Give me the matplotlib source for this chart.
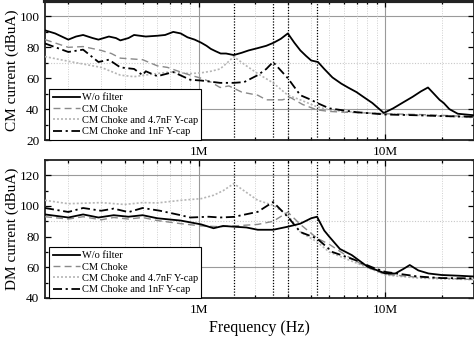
import matplotlib
matplotlib.use("Agg")
import matplotlib.pyplot as plt
from matplotlib.ticker import FixedLocator, NullFormatter, MultipleLocator

plt.rcParams['font.family'] = ['Liberation Serif', 'DejaVu Serif']

# ---------------- data (frequency in MHz, level in dBuA) ----------------
labels = ["W/o filter", "CM Choke", "CM Choke and 4.7nF Y-cap", "CM Choke and 1nF Y-cap"]

cm_wo_f = [0.15, 0.17, 0.2, 0.22, 0.24, 0.27, 0.29, 0.33, 0.36, 0.38, 0.42, 0.45, 0.52, 0.6, 0.66,
           0.73, 0.8, 0.87, 0.95, 1.03, 1.1, 1.16, 1.23, 1.31, 1.4, 1.54, 1.7, 1.85, 2.07, 2.3, 2.52,
           2.75, 3.0, 3.25, 3.5, 3.75, 4.0, 4.35, 4.7, 5.2, 5.8, 6.3, 7.0, 7.6, 8.5, 9.8, 11, 12.5,
           14, 15.5, 16.9, 18, 19.5, 20.5, 22, 24.4, 27, 30]
cm_wo_v = [91, 89, 85, 87, 88, 86, 85, 87, 86, 84.5, 86, 88, 87, 87.5, 88,
           90, 89, 86.5, 85, 83, 81, 79, 77.5, 76, 76, 75, 76.5, 78, 79.5, 81, 83,
           85.5, 89, 83, 78, 74.5, 71.5, 70.5, 66, 60.5, 56.5, 54, 51, 48, 44, 37.5, 40.5, 44.5,
           48, 51.5, 54, 50.5, 46, 44, 40, 37, 36.5, 36]

cm_ch_f = [0.15, 0.2, 0.24, 0.3, 0.34, 0.38, 0.5, 0.6, 0.68, 0.8, 0.9, 1.03, 1.16, 1.3, 1.45, 1.7,
           2.07, 2.3, 2.8, 3.1, 3.6, 4.3, 5, 6, 8, 10, 15, 20, 30]
cm_ch_v = [85, 80, 80.5, 78, 76, 73, 72, 68, 67, 64, 62, 60, 57.5, 54, 55, 51,
           49, 46, 46, 47.5, 43, 39.5, 38.5, 38, 37.5, 37, 36.5, 36, 35]

cm_47_f = [0.15, 0.2, 0.3, 0.38, 0.45, 0.55, 0.7, 0.9, 1.03, 1.16, 1.3, 1.42, 1.54, 1.8, 2.07, 2.5,
           3.0, 3.5, 4.3, 5, 6, 8, 10, 15, 20, 30]
cm_47_v = [74, 71, 67, 62, 61, 62.5, 64, 63, 63.5, 64.5, 66, 70, 74, 68, 63, 57,
           49, 46, 41.5, 39.5, 38.5, 37.5, 37, 36, 35.5, 34.5]

cm_1n_f = [0.15, 0.2, 0.24, 0.29, 0.33, 0.38, 0.45, 0.5, 0.52, 0.6, 0.73, 0.9, 1.03, 1.3, 1.54, 1.75,
           2.07, 2.3, 2.5, 2.75, 3.0, 3.5, 4.0, 4.3, 5.0, 5.7, 7, 10, 15, 20, 30]
cm_1n_v = [82.5, 77, 78.5, 70.5, 72, 67, 66, 62, 64.5, 61.3, 64, 59, 58.5, 57, 57, 57.5,
           62, 66, 70.5, 65, 60, 49, 46, 44, 40.5, 39.5, 38, 36.5, 36, 35.5, 35]

dm_wo_f = [0.15, 0.2, 0.24, 0.29, 0.35, 0.42, 0.5, 0.6, 0.8, 1.03, 1.2, 1.35, 1.54, 1.8, 2.07, 2.5,
           3.0, 3.5, 4.0, 4.3, 4.7, 5.0, 5.7, 6.6, 8, 10, 11.3, 12.5, 13.5, 15, 17, 20, 25, 30]
dm_wo_v = [94.5, 92.5, 94.5, 92.5, 94, 93, 94, 92, 90.5, 88, 85.5, 87, 86.5, 86, 84.5, 84.5,
           86.5, 88.5, 92, 93, 84, 80, 72, 68, 60.5, 56, 56, 59, 61.5, 58, 56, 55, 54.5, 54]

dm_ch_f = [0.15, 0.2, 0.24, 0.3, 0.35, 0.42, 0.5, 0.6, 0.8, 1.03, 1.3, 1.54, 2.07, 2.5, 3.0, 3.5,
           4.3, 5, 6.3, 8, 10, 15, 20, 30]
dm_ch_v = [93, 91.5, 93, 91, 92.5, 91.5, 92.5, 90.5, 88.5, 87, 86.5, 87, 88, 90, 96, 88,
           79, 75, 67, 60, 55.5, 53.5, 53, 52]

dm_47_f = [0.15, 0.2, 0.3, 0.4, 0.5, 0.6, 0.8, 1.03, 1.2, 1.35, 1.54, 2.07, 2.5, 3.0, 3.5, 4.3,
           5, 6.3, 8, 10, 15, 20, 30]
dm_47_v = [103.7, 101.5, 102.2, 101, 102.2, 102, 103.7, 104.8, 107, 110, 114.6, 103.7, 100.5, 94, 83, 76.6,
           70, 65, 60, 55, 53, 52.5, 52]

dm_1n_f = [0.15, 0.2, 0.24, 0.3, 0.35, 0.42, 0.5, 0.62, 0.8, 0.9, 1.13, 1.3, 1.54, 2.07, 2.5, 3.0,
           3.5, 4.3, 5.2, 6.8, 8.5, 10, 15, 20, 30]
dm_1n_v = [98.7, 96.1, 98.7, 96.9, 98.3, 96, 98.7, 96.9, 94, 92.5, 93, 92.5, 92.9, 96.2, 102.6, 92.9,
           83, 78.8, 70, 65, 60, 57, 54, 53, 52.8]

marker_freqs = [1.54, 2.5, 3.0, 4.3]      # black dotted reference lines (MHz)
x_major = [1, 10]
x_major_labels = ["1M", "10M"]
x_minor = [0.2, 0.3, 0.4, 0.5, 0.6, 0.7, 0.8, 0.9, 2, 3, 4, 5, 6, 7, 8, 9, 20, 30]

# ---------------- figure ----------------
W, H = 474, 339
fig = plt.figure(figsize=(W / 100, H / 100), dpi=100)


def px_axes(x0, y0, x1, y1):
    return [x0 / W, 1 - y1 / H, (x1 - x0) / W, (y1 - y0) / H]


ax1 = fig.add_axes(px_axes(45, 1, 474.5, 140))
ax2 = fig.add_axes(px_axes(45, 160, 474.5, 298))

styles = [
    dict(color="black", lw=1.3, ls="-"),
    dict(color="#8a8a8a", lw=1.0, ls=(0, (5, 3))),
    dict(color="#b5b5b5", lw=1.2, ls=(0, (1.2, 1.2))),
    dict(color="black", lw=1.3, ls=(0, (5, 2, 1.2, 2))),
]


def setup(ax, ylim, yticks, hsolid, hdot):
    ax.set_xscale("log")
    ax.set_xlim(0.15, 30)
    ax.set_ylim(*ylim)
    for y in hsolid:
        ax.axhline(y, color="#9a9a9a", lw=0.8, zorder=0)
    for y in hdot:
        ax.axhline(y, color="#c8c8c8", lw=0.8, ls=(0, (1, 1.5)), zorder=0)
    for x in x_major:
        ax.axvline(x, color="#9a9a9a", lw=0.8, zorder=0)
    for x in x_minor:
        ax.axvline(x, color="#d0d0d0", lw=0.7, ls=(0, (1, 1.5)), zorder=0)
    for x in marker_freqs:
        ax.axvline(x, color="black", lw=0.9, ls=(0, (1, 1.3)), zorder=1)
    ax.xaxis.set_major_locator(FixedLocator(x_major))
    ax.set_xticklabels(x_major_labels)
    ax.xaxis.set_minor_locator(FixedLocator(x_minor))
    ax.xaxis.set_minor_formatter(NullFormatter())
    ax.set_yticks(yticks)
    ax.yaxis.set_minor_locator(MultipleLocator(10))
    ax.tick_params(which="both", direction="in", top=True, right=True, labelsize=9.5, width=0.9)
    ax.tick_params(which="major", length=4, pad=4)
    ax.tick_params(which="minor", length=2.5)
    for s in ax.spines.values():
        s.set_linewidth(1.3)
        s.set_color("#222222")


setup(ax1, (20, 110), [20, 40, 60, 80, 100], [40, 100], [70])
setup(ax2, (40, 130), [40, 60, 80, 100, 120], [60, 120], [90])
ax1.spines["top"].set_linewidth(3)

series_top = [(cm_wo_f, cm_wo_v), (cm_ch_f, cm_ch_v), (cm_47_f, cm_47_v), (cm_1n_f, cm_1n_v)]
series_bot = [(dm_wo_f, dm_wo_v), (dm_ch_f, dm_ch_v), (dm_47_f, dm_47_v), (dm_1n_f, dm_1n_v)]

for ax, series in ((ax1, series_top), (ax2, series_bot)):
    handles = []
    order = [2, 1, 3, 0]
    lines = {}
    for i in order:
        f, v = series[i]
        (ln,) = ax.plot(f, v, zorder=3, **styles[i])
        lines[i] = ln
    handles = [lines[i] for i in range(4)]
    leg = ax.legend(handles, labels, loc="lower left", bbox_to_anchor=(0.009, 0.0),
                    fontsize=7.5, frameon=True, fancybox=False, edgecolor="black",
                    framealpha=1, borderaxespad=0, handlelength=2.6, labelspacing=0.2,
                    borderpad=0.35, handletextpad=0.2)
    leg.get_frame().set_linewidth(0.8)
    leg.set_zorder(5)

fig.text(12.5 / W, 1 - 70 / H, "CM current (dBuA)", rotation=90, ha="center", va="center", size=11)
fig.text(12.5 / W, 1 - 229 / H, "DM current (dBuA)", rotation=90, ha="center", va="center", size=11)
fig.text(259.5 / W, 1 - 328 / H, "Frequency (Hz)", ha="center", va="center", size=11.5)

fig.savefig("out.png", dpi=100)
